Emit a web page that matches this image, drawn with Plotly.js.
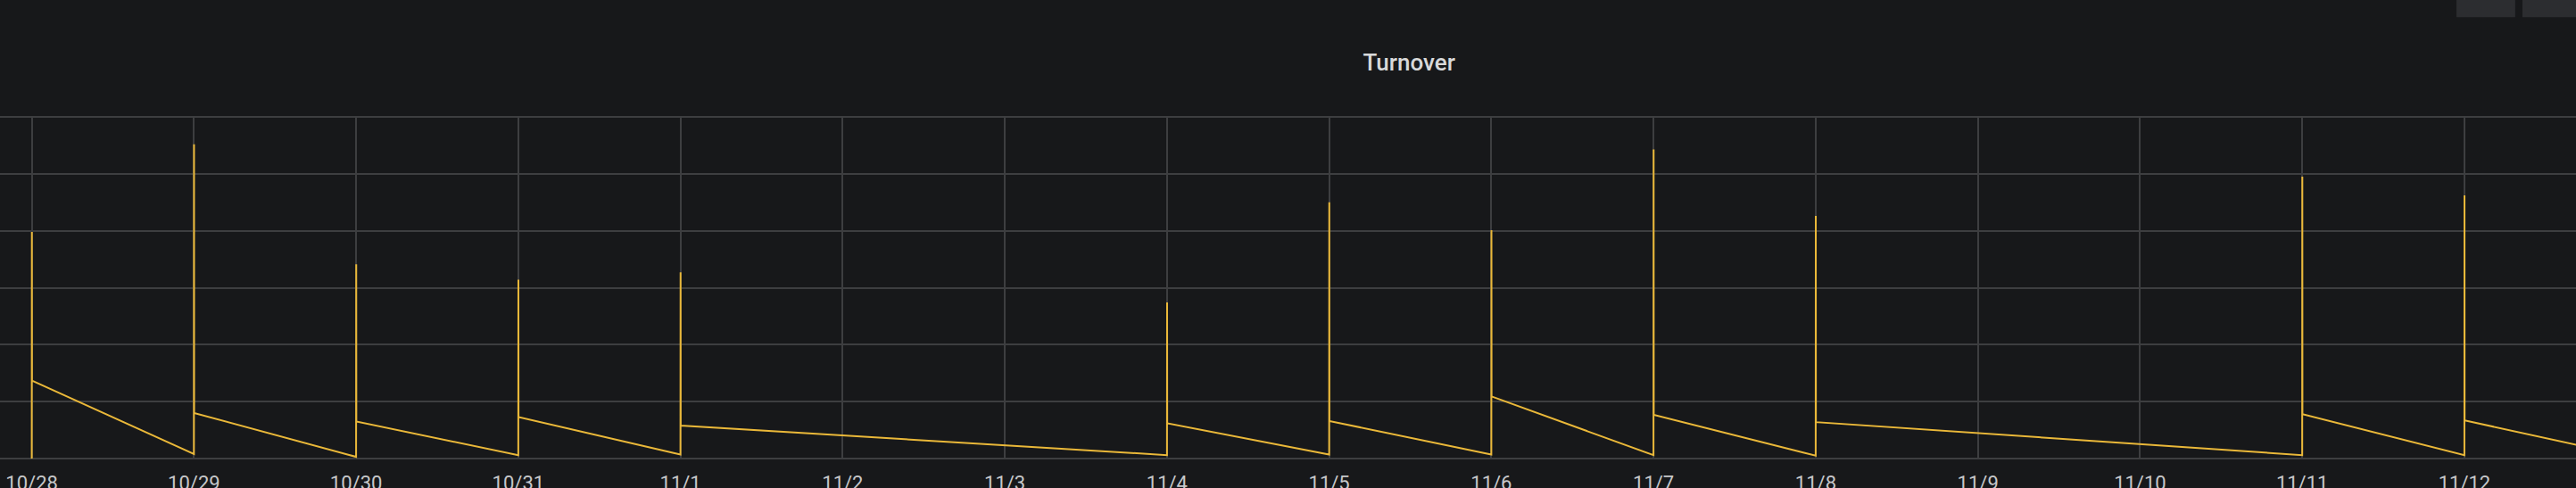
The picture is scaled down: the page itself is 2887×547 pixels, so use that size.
<!DOCTYPE html>
<html>
<head>
<meta charset="utf-8">
<script src="https://cdn.plot.ly/plotly-3.0.1.min.js"></script>
<style>
  html, body { margin: 0; padding: 0; background: #17181a; }
  #chart { width: 2887px; height: 547px; }
</style>
</head>
<body>
<div id="chart"></div>
<script>
// trading days, each one is drawn as: value before the open, spike, value after the spike
const days = ['2024-10-28','2024-10-29','2024-10-30','2024-10-31','2024-11-01',
              '2024-11-04','2024-11-05','2024-11-06','2024-11-07','2024-11-08',
              '2024-11-11','2024-11-12'];
const lowBefore = [0.00, 0.08, 0.03, 0.06, 0.07, 0.06, 0.07, 0.07, 0.06, 0.05, 0.06, 0.06];
const peaks     = [3.98, 5.52, 3.41, 3.14, 3.27, 2.74, 4.50, 4.01, 5.43, 4.26, 4.95, 4.62];
const afterPeak = [1.37, 0.80, 0.65, 0.73, 0.58, 0.62, 0.66, 1.09, 0.77, 0.64, 0.78, 0.67];
const lastDay = '2024-11-13';
const lastLow = 0.05;

const tickFormat = '%-m/%-d';

let xs = [];
let ys = [];
for (let i = 0; i < days.length; ++i) {
    xs.push(days[i] + ' 00:00:00', days[i] + ' 00:01:00', days[i] + ' 00:02:00');
    ys.push(lowBefore[i], peaks[i], afterPeak[i]);
}
xs.push(lastDay + ' 00:00:00');
ys.push(lastLow);

const trace = {
    x: xs,
    y: ys,
    type: 'scatter',
    mode: 'lines',
    line: { color: '#EAB839', width: 2 },
    hoverinfo: 'skip',
    showlegend: false
};

const gridColor = '#3d3e40';

const layout = {
    width: 2887,
    height: 547,
    paper_bgcolor: '#17181a',
    plot_bgcolor: '#17181a',
    margin: { l: 0, r: 0, t: 131, b: 33 },
    title: {
        text: 'Turnover',
        font: { family: 'Roboto', size: 26, color: '#d8d9da', weight: 500 },
        xref: 'container', x: 0.547, xanchor: 'center',
        yref: 'container', y: 0.872, yanchor: 'middle'
    },
    xaxis: {
        type: 'date',
        range: ['2024-10-27 19:18', '2024-11-12 16:31'],
        dtick: 86400000,
        tick0: '2024-10-28',
        tickformat: tickFormat,
        showgrid: true,
        gridcolor: gridColor,
        gridwidth: 2,
        zeroline: false,
        showline: false,
        ticks: '',
        ticklabelstandoff: 12,
        tickfont: { family: 'Roboto', size: 22, color: '#c7c8ca' }
    },
    yaxis: {
        range: [0, 6],
        dtick: 1,
        tick0: 0,
        showgrid: true,
        gridcolor: gridColor,
        gridwidth: 2,
        zeroline: true,
        zerolinecolor: gridColor,
        zerolinewidth: 2,
        showticklabels: false,
        ticks: ''
    },
    shapes: [
        // top grid line of the panel
        { type: 'line', xref: 'paper', yref: 'paper', x0: 0, x1: 1, y0: 1, y1: 1,
          line: { color: gridColor, width: 2 }, layer: 'below' },
        { type: 'rect', xref: 'paper', yref: 'paper', x0: 0.9536, x1: 0.9764, y0: 1.292, y1: 1.36,
          fillcolor: '#2c2d30', line: { width: 0 } },
        { type: 'rect', xref: 'paper', yref: 'paper', x0: 0.9792, x1: 1.01, y0: 1.292, y1: 1.36,
          fillcolor: '#2c2d30', line: { width: 0 } }
    ]
};

Plotly.newPlot('chart', [trace], layout, { displayModeBar: false, staticPlot: true });
</script>
</body>
</html>
